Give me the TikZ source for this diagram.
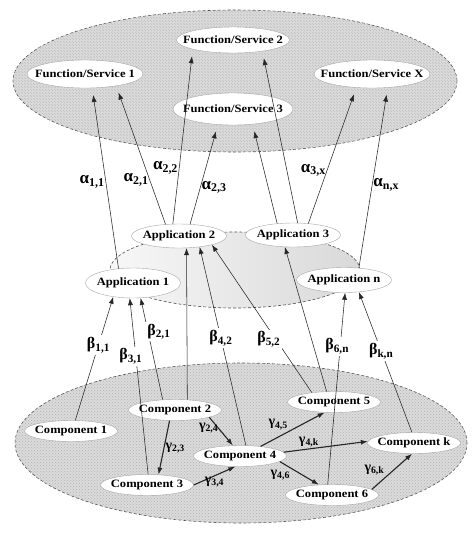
\documentclass[tikz,border=0pt]{standalone}
\usepackage{fontspec}
\setmainfont{Liberation Serif}
\newfontfamily\boxfont[FakeStretch=1.12]{Liberation Serif}
\usetikzlibrary{shapes,patterns,arrows.meta}

\tikzset{
  fsnode/.style={ellipse, draw=gray!70, fill=white, inner sep=0pt,
    minimum width=116pt, minimum height=28pt,
    label={[font=\boxfont\bfseries\fontsize{11.2}{13}\selectfont]center:#1}},
  appnode/.style={fsnode=#1, minimum width=95pt, minimum height=25pt},
  compnode/.style={fsnode=#1, minimum width=93pt, minimum height=21pt},
  linkarrow/.style={-{Latex[length=7pt,width=5pt]}, draw=black!85, line width=0.55pt},
  alphaarrow/.style={linkarrow, shorten >=7pt},
  gammaarrow/.style={-{Latex[length=7pt,width=5pt]}, draw=gray!30!black, line width=1.1pt},
  alab/.style={font=\bfseries\fontsize{17}{18}\selectfont, inner sep=1pt},
  blab/.style={fill=white, inner sep=2pt, font=\bfseries\fontsize{16}{18}\selectfont},
  glab/.style={font=\bfseries\fontsize{14}{15}\selectfont, inner sep=1pt},
  cloud/.style={draw=gray!65!black, dash pattern=on 3pt off 2pt, line width=0.6pt}
}

\begin{document}
\begin{tikzpicture}[x=1pt,y=-1pt]
  \useasboundingbox (0,0) rectangle (474,539);

  % the three layers
  \path[cloud, fill=gray!28, postaction={pattern=north west lines, pattern color=gray!50}]
    (235,81) ellipse [x radius=222pt, y radius=71pt];
  \path[cloud, left color=gray!6, right color=gray!30]
    (235,270) ellipse [x radius=125pt, y radius=38pt];
  \path[cloud, fill=gray!28, postaction={pattern=crosshatch dots, pattern color=gray!60}]
    (241,443) ellipse [x radius=226pt, y radius=80pt];

  % functions / services
  \node[fsnode=Function/Service 1] (fs1) at (85,74) {};
  \node[fsnode=Function/Service 2, minimum width=113pt, minimum height=26pt] (fs2) at (233,40) {};
  \node[fsnode=Function/Service 3, minimum width=120pt, minimum height=32pt] (fs3) at (233,109) {};
  \node[fsnode=Function/Service X] (fsx) at (372,74) {};

  % applications
  \node[appnode=Application 1, minimum height=30pt] (app1) at (133,283) {};
  \node[appnode=Application 2, minimum height=24pt] (app2) at (179,236) {};
  \node[appnode=Application 3, minimum height=24pt] (app3) at (293,235) {};
  \node[appnode=Application n] (appn) at (344,280) {};

  % components
  \foreach \nm/\x/\y in {1/71/431, 2/175/410, 3/147/485, 4/240/456, 5/334/402, k/414/443, 6/332/495}
    \node[compnode=Component \nm] (c\nm) at (\x,\y) {};

  % applications -> functions
  \draw[alphaarrow] (app1.135) -- (fs1.297) node[alab, pos=0.48, left] {α\textsubscript{1,1}};
  \draw[alphaarrow] (app2.139) -- (fs1.339) node[alab, pos=0.32, left] {α\textsubscript{2,1}};
  \draw[alphaarrow] (app2.117) -- (fs2.193) node[alab, pos=0.32, left] {α\textsubscript{2,2}};
  \draw[alphaarrow] (app2.47) -- (fs3.226) node[alab, pos=0.37, right] {α\textsubscript{2,3}};
  \draw[alphaarrow] (app3.144) -- (fs3.322);
  \draw[alphaarrow] (app3.69) -- (fs2.339);
  \draw[alphaarrow] (app3.37) -- (fsx.221) node[alab, pos=0.39, left] {α\textsubscript{3,x}};
  \draw[alphaarrow] (appn.39) -- (fsx.319) node[alab, pos=0.46, right] {α\textsubscript{n,x}};

  % components -> applications
  \draw[linkarrow] (c1.68) -- (app1.215) node[blab, pos=0.61] {β\textsubscript{1,1}};
  \draw[linkarrow] (c3.84) -- (app1.258) node[blab, pos=0.67, xshift=-5pt] {β\textsubscript{3,1}};
  \draw[linkarrow] (c2.140) -- (app1.297) node[blab, pos=0.67, xshift=11pt] {β\textsubscript{2,1}};
  \draw[linkarrow] (c2.40) -- (app2.302);
  \draw[linkarrow] (c4.61) -- (app2.332) node[blab, pos=0.54] {β\textsubscript{4,2}};
  \draw[linkarrow] (c5.157) -- (app2.345) node[blab, pos=0.36, xshift=-7pt] {β\textsubscript{5,2}};
  \draw[linkarrow] (c5.125) -- (app3.236);
  \draw[linkarrow] (c6.112) -- (appn.275) node[blab, pos=0.72, xshift=-3pt] {β\textsubscript{6,n}};
  \draw[linkarrow] (ck.101) -- (appn.321) node[blab, pos=0.58] {β\textsubscript{k,n}};

  % components -> components
  \draw[gammaarrow] (c2.243) -- (c3.42) node[glab, midway, right] {γ\textsubscript{2,3}};
  \draw[gammaarrow] (c2.348) -- (c4.124) node[glab, pos=0.45, left, yshift=2pt] {γ\textsubscript{2,4}};
  \draw[gammaarrow] (c3.east) -- (c4.246) node[glab, midway, below] {γ\textsubscript{3,4}};
  \draw[gammaarrow] (c4.25) -- (c5.228) node[glab, pos=0.45, above left] {γ\textsubscript{4,5}};
  \draw[gammaarrow] (c4.5) -- (ck.178) node[glab, pos=0.3, above] {γ\textsubscript{4,k}};
  \draw[gammaarrow] (c4.352) -- (c6.142) node[glab, pos=0.3, below left] {γ\textsubscript{4,6}};
  \draw[gammaarrow] (c6.8) -- (ck.260) node[glab, pos=0.35, above left] {γ\textsubscript{6,k}};
\end{tikzpicture}
\end{document}
